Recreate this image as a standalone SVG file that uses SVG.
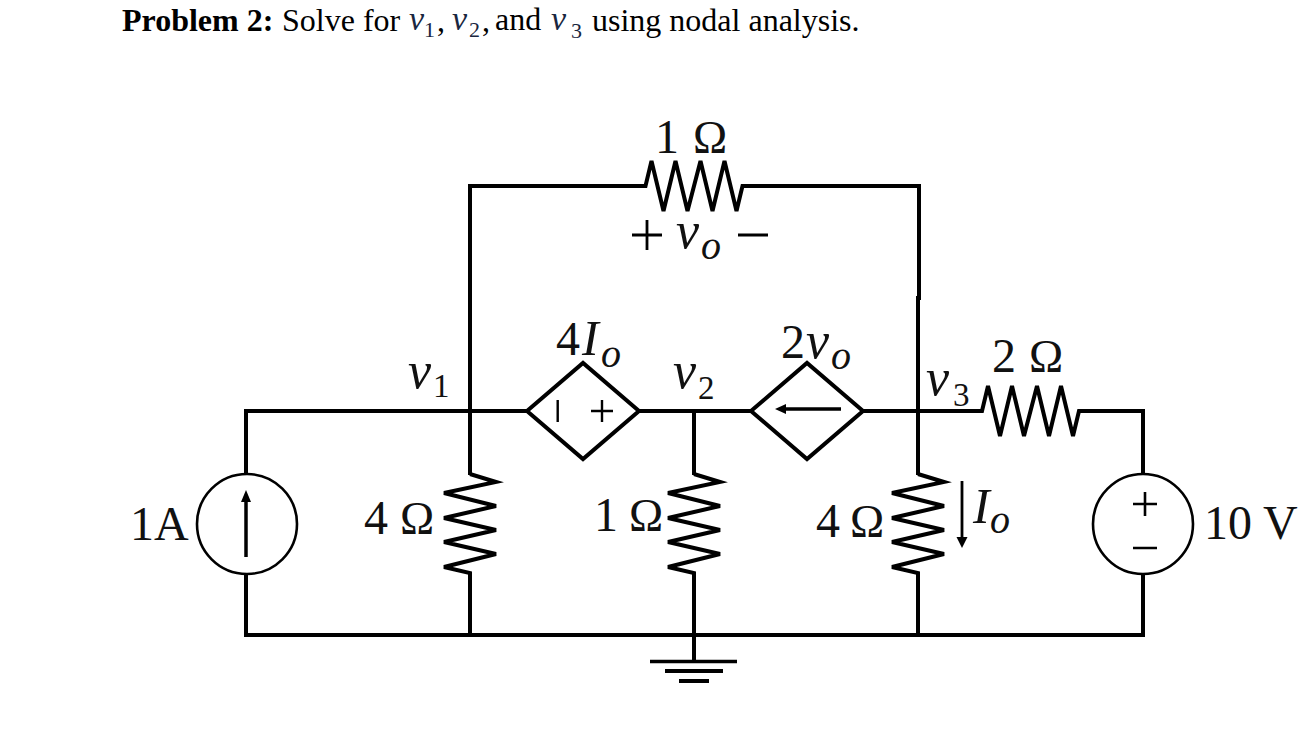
<svg xmlns="http://www.w3.org/2000/svg" width="1310" height="730" viewBox="0 0 1310 730">
<style>
.w{fill:none;stroke:#000;stroke-width:4;stroke-linejoin:miter}
.c{fill:#fff;stroke:#000;stroke-width:2.6}
.d{fill:#fff;stroke:#000;stroke-width:4}
.t{font-family:"Liberation Serif",serif;font-size:48px;fill:#111}
.o{font-size:46px}
.v{font-family:"Liberation Serif",serif;font-size:52px;font-style:italic;fill:#111}
.n{font-family:"Liberation Serif",serif;font-size:33px;fill:#111}
.u{font-family:"Liberation Serif",serif;font-size:40px;font-style:italic;fill:#111}
.h{font-family:"Liberation Serif",serif;font-size:32px;fill:#000}
.m{font-family:"Liberation Serif",serif;font-size:34px;font-style:italic;fill:#1a2740}
.ms{font-family:"Liberation Serif",serif;font-size:22px;fill:#1a2740}
</style>
<defs>
<path id="rv" class="w" d="M0 0V-1L26 7 -26 18 26 31 -26 43 26 55 -26 67 26 79 -26 92 0 98V99"/>
<path id="rh" class="w" d="M0 0H1L7 -25 19 25 31 -25 43 25 56 -25 68 25 80 -25 92 25 98 0H99"/>
</defs>
<g id="title">
<text class="h" x="122" y="31" font-weight="bold">Problem 2:</text>
<text class="h" x="282" y="31">Solve for</text>
<text class="m" x="409" y="30">v</text><text class="ms" x="424" y="37">1</text><text class="h" x="437" y="31">,</text>
<text class="m" x="452" y="30">v</text><text class="ms" x="469" y="37">2</text><text class="h" x="482" y="31">,</text>
<text class="h" x="495" y="30">and</text>
<text class="m" x="551" y="30">v</text><text class="ms" x="571" y="38">3</text>
<text class="h" x="592" y="31">using nodal analysis.</text>
</g>
<g id="connectors">
<path class="w" d="M470 475V186H645M743 186H919V298H918V475M470 573V635M918 573V635"/>
<path class="w" d="M246 474V411H527M639 411H751M863 411H981M1080 411H1143V474"/>
<path class="w" d="M246 574V635H1143V574"/>
<path class="w" d="M694 411V475M694 573V661"/>
</g>
<g id="source-1a"><circle class="c" cx="247" cy="524" r="50"/>
<path d="M246 557V498" stroke="#000" stroke-width="3.500"/><path d="M246 490L251 502H241Z"/></g>
<g id="source-10v"><circle class="c" cx="1143" cy="524" r="50"/>
<path d="M1133 504H1157M1145 492V516M1133 548H1157" stroke="#000" stroke-width="2.600" fill="none"/></g>
<g id="dep-4io"><polygon class="d" points="527,411 583,363 639,411 583,459"/>
<path d="M557.700 400V422M591 411H613M602 400V422" stroke="#000" stroke-width="2.400" fill="none"/></g>
<g id="dep-2vo"><polygon class="d" points="751,411 807,363 863,411 807,459"/>
<path d="M841 409H783" stroke="#000" stroke-width="3.500"/><path d="M775 409L786 404V414Z"/></g>
<g id="r-top"><use href="#rh" x="644.500" y="186"/></g>
<g id="r-2"><use href="#rh" x="981" y="411"/></g>
<g id="r-v1"><use href="#rv" x="470" y="475"/></g>
<g id="r-v2"><use href="#rv" x="694" y="475"/></g>
<g id="r-v3"><use href="#rv" x="918" y="475"/></g>
<g id="ground"><path d="M650 661.500H737" stroke="#000" stroke-width="3.500"/><path d="M665 671H723M679 681H709" stroke="#000" stroke-width="4"/></g>
<g id="io-arrow"><path d="M962 481V540" stroke="#000" stroke-width="2.800"/><path d="M962 548L956.500 537H967.500Z"/></g>
<g id="labels">
<text class="t" x="655" y="153">1<tspan class="o" x="693">Ω</tspan></text>
<path d="M632 235H662M647 220V250M738 235H768" stroke="#000" stroke-width="2.800" fill="none"/>
<text class="v" x="676" y="248">v</text><text class="u" x="701" y="259">o</text>
<text class="t" x="556" y="355">4</text><text class="t" x="582" y="355" style="font-style:italic;font-size:50px">I</text><text class="u" x="601" y="367">o</text>
<text class="t" x="781" y="358">2</text><text class="v" x="806" y="358">v</text><text class="u" x="831" y="369">o</text>
<text class="v" x="408" y="388">v</text><text class="n" x="433" y="397">1</text>
<text class="v" x="673" y="388">v</text><text class="n" x="698" y="399">2</text>
<text class="v" x="926" y="395">v</text><text class="n" x="953" y="406">3</text>
<text class="t" x="992" y="372">2<tspan class="o" x="1029">Ω</tspan></text>
<text class="t" x="130" y="540">1A</text>
<text class="t" x="364" y="534">4<tspan class="o" x="400">Ω</tspan></text>
<text class="t" x="594" y="531">1<tspan class="o" x="629">Ω</tspan></text>
<text class="t" x="816" y="537">4<tspan class="o" x="850">Ω</tspan></text>
<text class="t" x="973" y="523" style="font-style:italic;font-size:50px">I</text><text class="u" x="990" y="533">o</text>
<text class="t" x="1204" y="539">10<tspan x="1263">V</tspan></text>
</g>
</svg>
